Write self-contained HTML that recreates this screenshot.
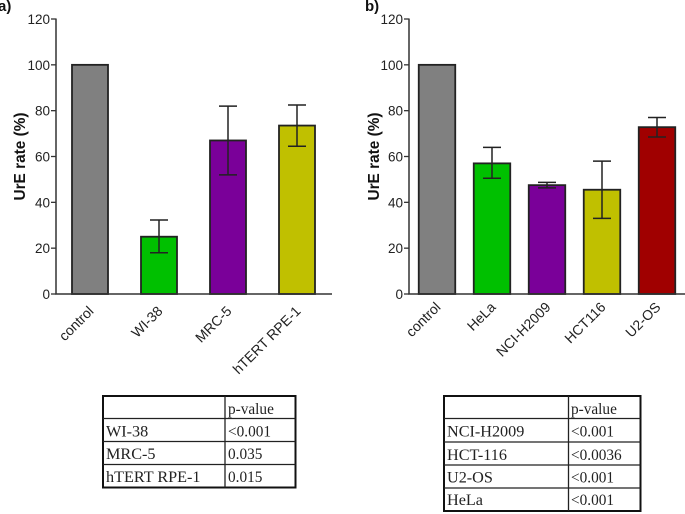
<!DOCTYPE html>
<html>
<head>
<meta charset="utf-8">
<style>
html,body{margin:0;padding:0;background:#fff;width:685px;height:514px;overflow:hidden}
svg{display:block}
text{font-family:"Liberation Sans",sans-serif}
.tbl text{font-family:"Liberation Serif",serif;font-size:16.2px;fill:#222}
.tbl text.v{font-size:15.3px}
</style>
</head>
<body>
<svg id="figure" width="685" height="514" viewBox="0 0 685 514" xmlns="http://www.w3.org/2000/svg">
  <text x="-2" y="11" font-size="15" font-weight="bold" fill="#111">a)</text>
  <text x="365" y="11" font-size="15" font-weight="bold" fill="#111">b)</text>

  <g class="tbl">
    <rect x="103" y="396" width="192.5" height="91.5" fill="none" stroke="#111" stroke-width="2"/>
    <path d="M225 396V487.5M103 418.5H295.5M103 441.5H295.5M103 464.5H295.5" fill="none" stroke="#222" stroke-width="1.3"/>
    <text class="v" x="228" y="414">p-value</text>
    <text x="106" y="436.5">WI-38</text>
    <text class="v" x="228" y="436.5">&lt;0.001</text>
    <text x="106" y="459">MRC-5</text>
    <text class="v" x="228" y="459">0.035</text>
    <text x="106" y="482">hTERT RPE-1</text>
    <text class="v" x="228" y="482">0.015</text>
  </g>

  <g class="tbl">
    <rect x="444" y="396" width="196.5" height="115" fill="none" stroke="#111" stroke-width="2"/>
    <path d="M568.5 396V511M444 418.5H640.5M444 442H640.5M444 465H640.5M444 488H640.5" fill="none" stroke="#222" stroke-width="1.3"/>
    <text class="v" x="571" y="414">p-value</text>
    <text x="447" y="436.5">NCI-H2009</text>
    <text class="v" x="571" y="436.5">&lt;0.001</text>
    <text x="447" y="460">HCT-116</text>
    <text class="v" x="571" y="460">&lt;0.0036</text>
    <text x="447" y="482.5">U2-OS</text>
    <text class="v" x="571" y="482.5">&lt;0.001</text>
    <text x="447" y="505">HeLa</text>
    <text class="v" x="571" y="505">&lt;0.001</text>
  </g>
</svg>
<script>
var yTicks = [0, 20, 40, 60, 80, 100, 120];

var categoriesA = ["control", "WI-38", "MRC-5", "hTERT RPE-1"];
var valuesA = [100, 25, 67, 73.5];
var errLowA = [null, 18, 52, 64.5];
var errHighA = [null, 32.3, 82, 82.5];
var colorsA = ["#808080", "#00c000", "#7a0099", "#c0c000"];

var categoriesB = ["control", "HeLa", "NCI-H2009", "HCT116", "U2-OS"];
var valuesB = [100, 57, 47.5, 45.5, 72.8];
var errLowB = [null, 50.5, 46.3, 33, 68.5];
var errHighB = [null, 64, 48.7, 58, 77];
var colorsB = ["#808080", "#00c000", "#7a0099", "#c0c000", "#a00000"];

var NS = "http://www.w3.org/2000/svg";
var svg = document.getElementById("figure");

function mk(parent, tag, attrs, txt) {
  var e = document.createElementNS(NS, tag);
  for (var k in attrs) e.setAttribute(k, attrs[k]);
  if (txt !== undefined) e.textContent = txt;
  parent.appendChild(e);
  return e;
}

function drawChart(cfg) {
  var yScale = function (v) { return cfg.y0 - v * (cfg.y0 - cfg.yTop) / 120; };
  var xScale = function (i) { return cfg.first + i * cfg.step; };

  var g = mk(svg, "g", {});
  
  

  cfg.values.forEach(function (v, i) {
    var cx = xScale(i);
    var bar = mk(g, "rect", {
      x: cx - cfg.barW / 2, y: yScale(v), width: cfg.barW, height: cfg.y0 - yScale(v),
      fill: cfg.colors[i], stroke: "#222", "stroke-width": 1.8
    });
    
    

    if (cfg.low[i] !== null) {
      var yl = yScale(cfg.low[i]), yh = yScale(cfg.high[i]);
      var err = mk(g, "path", {
        d: "M" + cx + " " + yl + "V" + yh +
           "M" + (cx - 9) + " " + yl + "H" + (cx + 9) +
           "M" + (cx - 9) + " " + yh + "H" + (cx + 9),
        fill: "none", stroke: "#222", "stroke-width": 1.5
      });
      
      
    }

    var lx = cx + 4.5, ly = cfg.y0 + cfg.labelDy;
    var lab = mk(g, "text", {
      x: lx, y: ly, "text-anchor": "end", "font-size": 14, fill: "#222",
      transform: "rotate(-45 " + lx + " " + ly + ")"
    }, cfg.categories[i]);
    
    
  });

  var axes = mk(g, "path", {
    d: "M" + cfg.x0 + " " + (cfg.yTop - 0.5) + "V" + cfg.y0 + "H" + cfg.xEnd,
    fill: "none", stroke: "#333", "stroke-width": 1.5
  });
  
  

  yTicks.forEach(function (t) {
    var y = yScale(t);
    var tick = mk(g, "line", { x1: cfg.x0 - 5, x2: cfg.x0, y1: y, y2: y, stroke: "#333", "stroke-width": 1.3 });
    
    

    var tl = mk(g, "text", {
      x: cfg.x0 - 6, y: y + 5, "text-anchor": "end", "font-size": 13.5, fill: "#222"
    }, String(t));
    
    
  });

  var tx = cfg.x0 - cfg.titleDx, ty = (cfg.y0 + cfg.yTop) / 2;
  var title = mk(g, "text", {
    x: tx, y: ty, "text-anchor": "middle", "font-size": 15.4, "font-weight": "bold", fill: "#111",
    transform: "rotate(-90 " + tx + " " + ty + ")"
  }, "UrE rate (%)");
  
  
}

drawChart({
  categories: categoriesA, values: valuesA, low: errLowA, high: errHighA, colors: colorsA,
  x0: 56, xEnd: 332, yTop: 19, y0: 294, first: 90, step: 69, barW: 36, labelDy: 18, titleDx: 31
});
drawChart({
  categories: categoriesB, values: valuesB, low: errLowB, high: errHighB, colors: colorsB,
  x0: 409, xEnd: 685, yTop: 19, y0: 294, first: 437, step: 55, barW: 36.5, labelDy: 14, titleDx: 30
});
</script>
</body>
</html>
